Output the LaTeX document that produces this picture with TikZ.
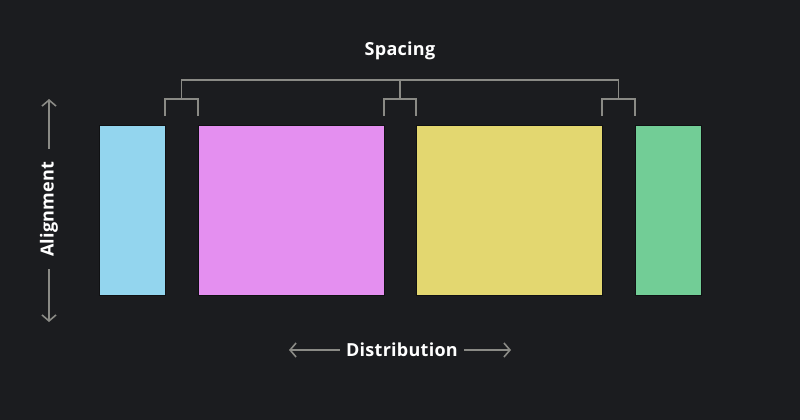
\documentclass[tikz,border=0pt]{standalone}
\usepackage{fontspec}
\setmainfont[LetterSpace=1.5]{Open Sans}
\usetikzlibrary{arrows.meta,positioning,calc}

\definecolor{bgdark}{HTML}{1B1C1F}
\definecolor{linegray}{HTML}{8A8A85}
\definecolor{cblue}{HTML}{93D5EE}
\definecolor{cpink}{HTML}{E48FF0}
\definecolor{cyellow}{HTML}{E3D770}
\definecolor{cgreen}{HTML}{72CD96}

\tikzset{
    block/.style={rectangle, minimum height=170pt, inner sep=0pt, draw=bgdark!60!black, line width=0.5pt},
    bracket/.style={draw=linegray, line width=1.6pt},
    arr/.style={draw=linegray, line width=1.6pt, -{Straight Barb[length=6pt,width=14pt]}},
    label/.style={text=white, font=\bfseries\fontsize{18}{21}\selectfont}
}

\begin{document}
\begin{tikzpicture}[x=1pt, y=-1pt]
    \fill[bgdark] (0,0) rectangle (800,420);
    \useasboundingbox (0,0) rectangle (800,420);
    % 色块
    \node[block, fill=cblue,   minimum width=66pt]  (b1) at (132,210) {};
    \node[block, fill=cpink,   minimum width=186pt] (b2) at (291,210) {};
    \node[block, fill=cyellow, minimum width=186pt] (b3) at (509,210) {};
    \node[block, fill=cgreen,  minimum width=66pt]  (b4) at (668,210) {};
    % 间距括号
    \foreach \a/\b/\m in {b1/b2/m1, b2/b3/m2, b3/b4/m3} {
        \draw[bracket] (\a.east |- 0,116) -- (\a.east |- 0,99) -- (\b.west |- 0,99) -- (\b.west |- 0,116);
        \coordinate (\m) at ($(\a.east |- 0,99)!0.5!(\b.west |- 0,99)$);
    }
    \draw[bracket] (m1) -- (m1 |- 0,80) -- (m3 |- 0,80) -- (m3);
    \draw[bracket] (m2) -- (m2 |- 0,80);
    % 标签
    \node[label] (spacing) at (400,51) {Spacing};
    \node[label, rotate=90, inner xsep=12pt] (align) at (49,209) {Alignment};
    \node[label, inner xsep=6pt] (distr) at (402,350) {Distribution};
    % 箭头
    \coordinate (aTop) at (49,99);
    \coordinate (aBot) at (49,322);
    \coordinate (dLeft) at (289,350);
    \coordinate (dRight) at (511,350);
    \draw[arr] (align.east) -- (aTop);
    \draw[arr] (align.west) -- (aBot);
    \draw[arr] (distr.west) -- (dLeft);
    \draw[arr] (distr.east) -- (dRight);
\end{tikzpicture}
\end{document}
